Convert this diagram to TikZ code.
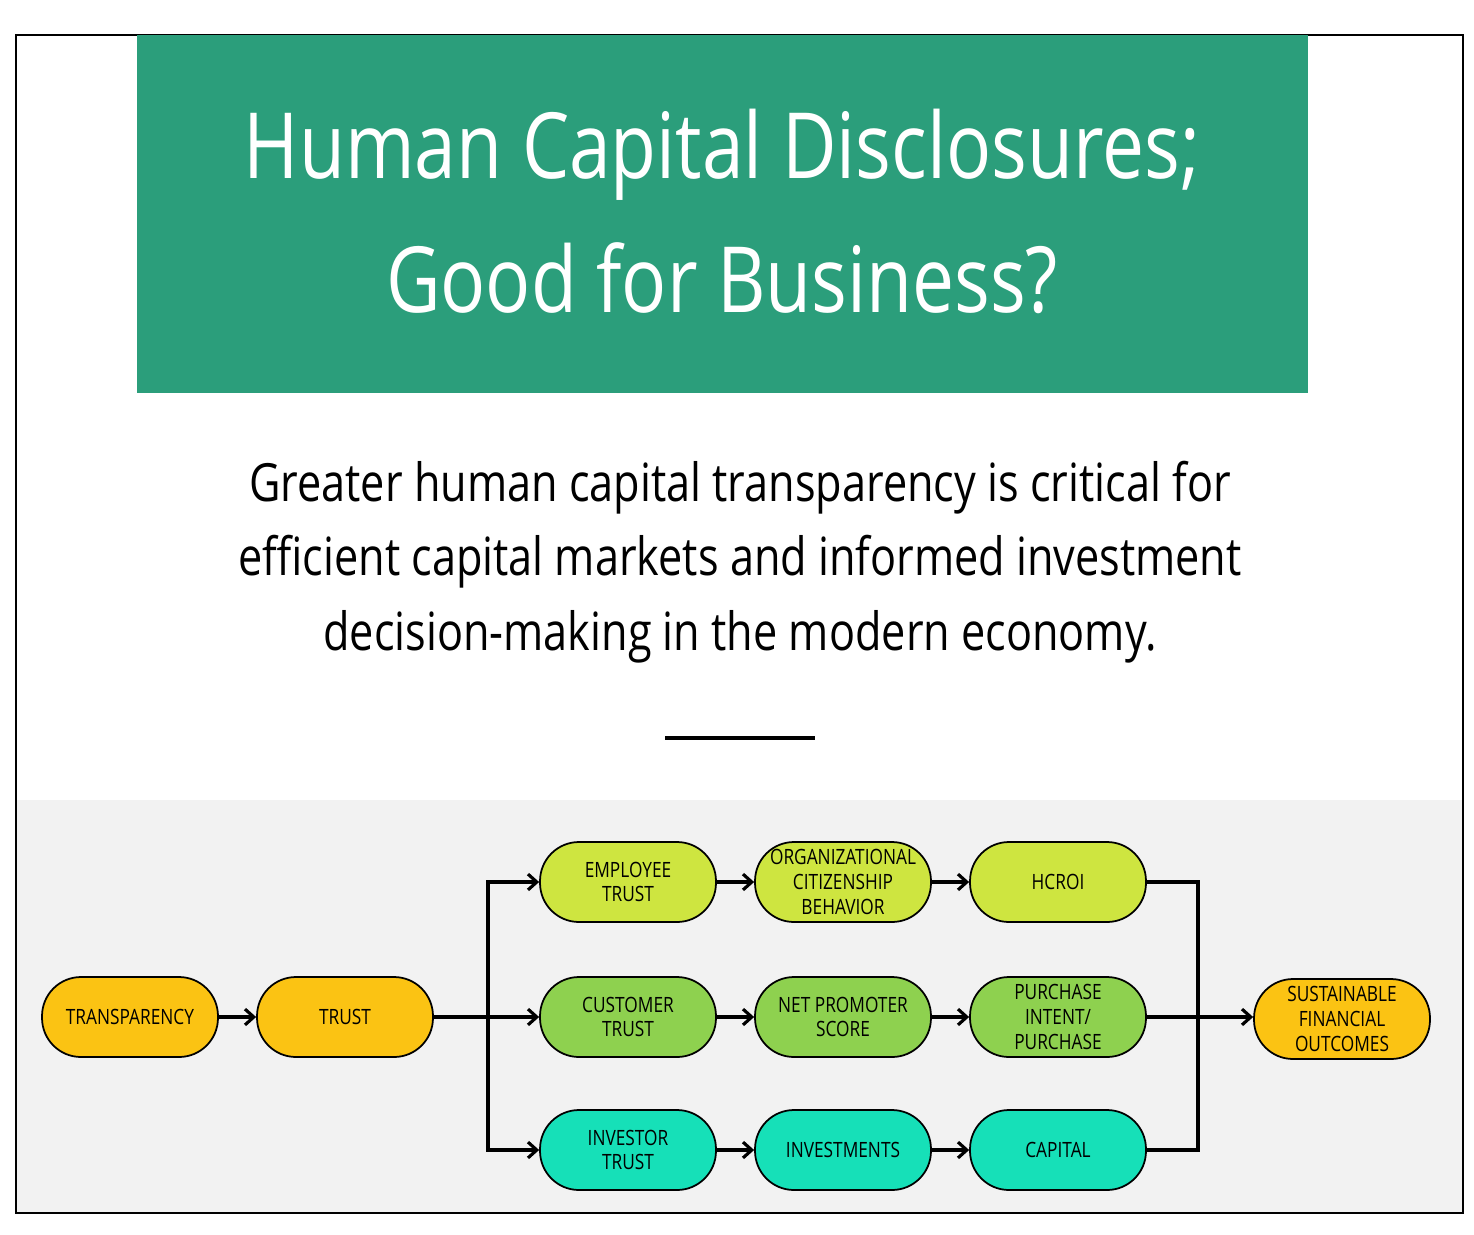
\documentclass[tikz,border=0pt]{standalone}
\usepackage{fontspec}
\setmainfont{Open Sans}[FakeStretch=0.82]
\usetikzlibrary{arrows.meta}
\definecolor{banner}{HTML}{2B9E7B}
\definecolor{cOr}{HTML}{FBC313}
\definecolor{cYg}{HTML}{CEE540}
\definecolor{cGr}{HTML}{8ED14F}
\definecolor{cTe}{HTML}{16E0B8}
\begin{document}
\begin{tikzpicture}[x=0.02cm,y=-0.02cm,
  pill/.style={draw=black,line width=1pt,rounded corners=0.78cm,minimum width=3.52cm,minimum height=1.6cm,align=center,font=\fontsize{12}{14}\selectfont,inner sep=1pt},
  conn/.style={line width=1.8pt,-{Straight Barb[length=5pt,width=9pt,line width=1.8pt]}},
  seg/.style={line width=1.8pt}]
\useasboundingbox (0,0) rectangle (1474,1234);
\fill[white] (0,0) rectangle (1474,1234);
\fill[gray!10] (16,800) rectangle (1463,1213);
\draw[line width=0.8pt] (16,35) rectangle (1463,1213);
\fill[banner] (137,35) rectangle (1308,393);
\node[white,font=\fontsize{52}{62}\selectfont] (t1) at (722,155) {Human Capital Disclosures;};
\node[white,font=\fontsize{52}{62}\selectfont] (t2) at (722,278) {Good for Business?};
\node[align=center,font=\fontsize{30}{42.5}\selectfont] (sub) at (740,562) {Greater human capital transparency is critical for\\efficient capital markets and informed investment\\decision-making in the modern economy.};
\draw[line width=2.2pt] (665,738) -- (815,738);
\node[pill,fill=cOr] (tr) at (130,1017) {TRANSPARENCY};
\node[pill,fill=cOr] (tu) at (345,1017) {TRUST};
\node[pill,fill=cYg] (a1) at (628,882) {EMPLOYEE\\TRUST};
\node[pill,fill=cYg] (a2) at (843,882) {ORGANIZATIONAL\\CITIZENSHIP\\BEHAVIOR};
\node[pill,fill=cYg] (a3) at (1058,882) {HCROI};
\node[pill,fill=cGr] (b1) at (628,1017) {CUSTOMER\\TRUST};
\node[pill,fill=cGr] (b2) at (843,1017) {NET PROMOTER\\SCORE};
\node[pill,fill=cGr] (b3) at (1058,1017) {PURCHASE\\INTENT/\\PURCHASE};
\node[pill,fill=cTe] (c1) at (628,1150) {INVESTOR\\TRUST};
\node[pill,fill=cTe] (c2) at (843,1150) {INVESTMENTS};
\node[pill,fill=cTe] (c3) at (1058,1150) {CAPITAL};
\node[pill,fill=cOr] (so) at (1342,1019) {SUSTAINABLE\\FINANCIAL\\OUTCOMES};
\coordinate (j1) at (488,1017);
\coordinate (j2) at (1198,1017);
\draw[conn] (tr) -- (tu);
\draw[seg] (tu) -- (j1);
\draw[conn] (j1) |- (a1);
\draw[conn] (j1) -- (b1);
\draw[conn] (j1) |- (c1);
\foreach \r in {a,b,c}{\draw[conn] (\r1) -- (\r2); \draw[conn] (\r2) -- (\r3);}
\draw[seg] (a3.east) -| (j2);
\draw[seg] (c3.east) -| (j2);
\draw[seg] (b3) -- (j2);
\draw[conn] (j2) -- (so.west |- j2);
\end{tikzpicture}
\end{document}
